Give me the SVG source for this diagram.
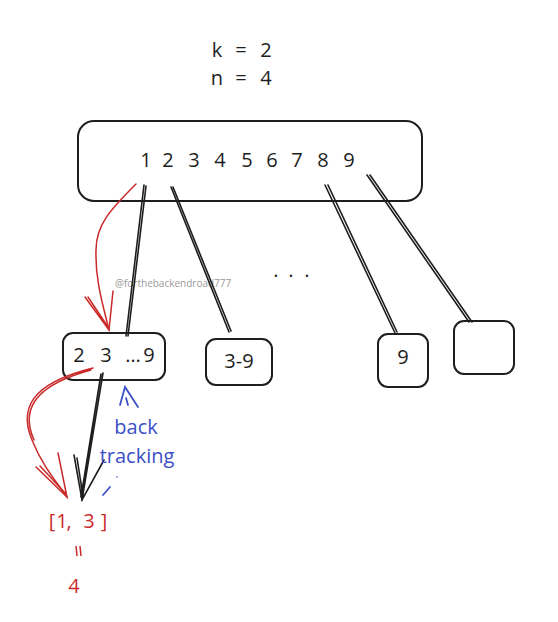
<svg xmlns="http://www.w3.org/2000/svg" width="558" height="622" viewBox="0 0 558 622">
<style>
.t{font-family:"Open Sans","Liberation Sans",sans-serif;fill:#1e1e1e;text-anchor:middle}
.box{fill:none;stroke:#1e1e1e;stroke-width:2}
.ln{fill:none;stroke:#1e1e1e;stroke-width:1.6;stroke-linecap:round}
.red{fill:none;stroke:#c92a2a;stroke-width:1.5;stroke-linecap:round}
.blue{fill:none;stroke:#3b4fc7;stroke-width:1.8;stroke-linecap:round}
.bt{font-family:"Open Sans","Liberation Sans",sans-serif;fill:#3b4fc7;text-anchor:middle;font-size:20px}
.rt{font-family:"Open Sans","Liberation Sans",sans-serif;fill:#c92a2a;text-anchor:middle;font-size:20px}
</style>
<rect width="558" height="622" fill="#fff"/>
<g id="header">
<text class="t" font-size="20" y="57"><tspan x="217">k</tspan><tspan x="241">=</tspan><tspan x="266">2</tspan></text>
<text class="t" font-size="20" y="85"><tspan x="217">n</tspan><tspan x="241">=</tspan><tspan x="266">4</tspan></text>
</g>
<g id="root">
<rect class="box" x="78" y="121" width="344" height="80" rx="16"/>
<text class="t" font-size="20" y="167"><tspan x="146">1</tspan><tspan x="168">2</tspan><tspan x="194">3</tspan><tspan x="220">4</tspan><tspan x="247">5</tspan><tspan x="272">6</tspan><tspan x="297">7</tspan><tspan x="323">8</tspan><tspan x="349">9</tspan></text>
</g>
<g id="node-23-9">
<rect class="box" x="63" y="333" width="102" height="47" rx="10"/>
<text class="t" font-size="20" y="362"><tspan x="79">2</tspan><tspan x="106">3</tspan><tspan x="133">…</tspan><tspan x="149">9</tspan></text>
</g>
<g id="node-3-9">
<rect class="box" x="206" y="339" width="66" height="46" rx="10"/>
<text class="t" x="239" y="368" font-size="20">3-9</text>
</g>
<g id="node-9">
<rect class="box" x="378" y="334" width="50" height="53" rx="10"/>
<text class="t" x="403" y="364" font-size="20">9</text>
</g>
<g id="node-empty">
<rect class="box" x="454" y="321" width="60" height="53" rx="10"/>
</g>
<g id="ellipsis">
<text class="t" font-size="20" y="277"><tspan x="276">.</tspan><tspan x="291">.</tspan><tspan x="307">.</tspan></text>
</g>
<g id="watermark">
<text x="115" y="287" font-family="'Open Sans',sans-serif" font-size="10" fill="#9a9a9a">@forthebackendroad777</text>
</g>
<g id="connectors">
<path class="ln" d="M144 185 L126 336 M146 186 L128 336"/>
<path class="ln" d="M171 187 L229 332 M173 187 L231 331"/>
<path class="ln" d="M325 185 L395 333 M328 185 L397 332"/>
<path class="ln" d="M367 175 L469 322 M370 175 L472 322"/>
<path class="red" d="M136 184 C110 210 96 225 96 250 C95 280 103 305 109 330"/>
<path class="red" d="M85 297 L109 330 L113 291 M88 297 L108 327"/>
<path class="ln" d="M103 373 L82 500 M101 374 L81 497"/>
<path class="ln" d="M74 455 L82 500 L104 460 M77 458 L83 496"/>
<path class="red" d="M93 368 C45 380 15 400 32 440 C42 465 55 480 67 497 M91 370 C47 382 17 402 34 440"/>
<path class="red" d="M36 467 L67 497 L58 453 M40 466 L66 494"/>
<path class="blue" d="M120 405 L125 387 L138 407 M126 398 L128 405"/>
<path class="blue" d="M103 495 L110 487"/>
<circle cx="117" cy="477" r="0.8" fill="#3b4fc7"/>
</g>
<g id="labels">
<text class="bt" x="136" y="434">back</text>
<text class="bt" x="137" y="463">tracking</text>
<text class="rt" y="528"><tspan x="52">[</tspan><tspan x="62">1</tspan><tspan x="69">,</tspan><tspan x="89">3</tspan><tspan x="104">]</tspan></text>
<path d="M76 546 L77 556 M80 546 L81 556" stroke="#c92a2a" stroke-width="1.5" fill="none"/>
<text class="rt" x="74" y="593">4</text>
</g>
</svg>
